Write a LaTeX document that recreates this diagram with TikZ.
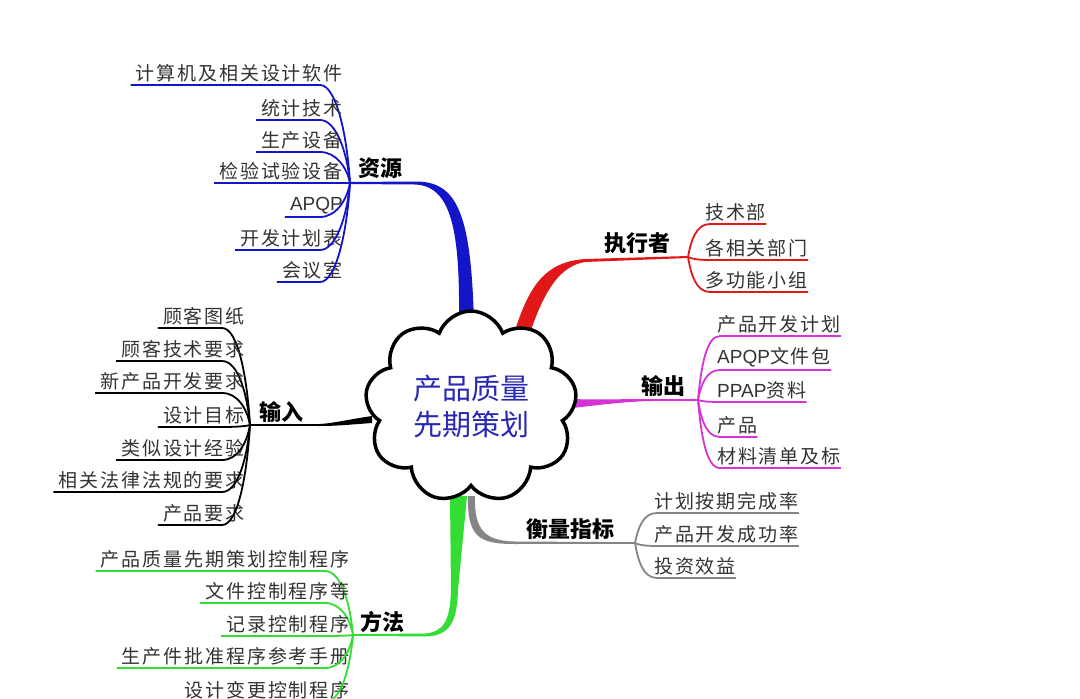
\documentclass[tikz,border=0pt]{standalone}
\usepackage{xcolor}
\usepackage{fontspec}
\setmainfont{Noto Sans CJK SC}
\newfontfamily\itemfont{Noto Sans CJK SC}[LetterSpace=10]
\newfontfamily\latfont{Liberation Sans}
\usetikzlibrary{shapes.symbols,calc,backgrounds}

\definecolor{zyblue}{HTML}{1414C8}
\definecolor{zxred}{HTML}{E01818}
\definecolor{scpink}{HTML}{D633D6}
\definecolor{hlgray}{HTML}{858585}
\definecolor{ffgreen}{HTML}{33DD33}
\definecolor{itemtext}{HTML}{333333}
\definecolor{cloudtext}{HTML}{2828B4}

\tikzset{
  item/.style={inner sep=0pt, text=itemtext, font=\itemfont\fontsize{19}{22}\selectfont},
  branch/.style={inner sep=0pt, font=\fontsize{22}{26}\selectfont\bfseries},
  twig/.style={line width=1.8pt}
}

\begin{document}
\begin{tikzpicture}[x=1pt,y=-1pt]
    \useasboundingbox (0,0) rectangle (1080,699);

    % the cloud in the middle
    \node[cloud, cloud puffs=9, cloud puff arc=140, cloud ignores aspect, draw, line width=3.5pt,
          fill=white, minimum width=212pt, minimum height=192pt, text=cloudtext, align=center,
          font=\fontsize{29}{36}\selectfont] (cloud) at (471,407) {产品质量\\先期策划};

    % hubs and roots of the six branches
    \coordinate (zyHub) at (350,183);  \coordinate (zyRoot) at (466,322);
    \coordinate (zxHub) at (688,257);  \coordinate (zxRoot) at (523,330);
    \coordinate (scHub) at (698,400);  \coordinate (scRoot) at (572,403);
    \coordinate (hlHub) at (635,543);  \coordinate (hlRoot) at (471,496);
    \coordinate (srHub) at (250,425);  \coordinate (srRoot) at (372,420);
    \coordinate (ffHub) at (353,635);  \coordinate (ffRoot) at (458,496);

    \begin{scope}[on background layer]
        \fill[zyblue] ($(zyHub)+(0,-1)$) -- (415,181.5) .. controls (458,181) and (471,215) .. ($(zyRoot)+(8,0)$)
            -- ($(zyRoot)+(-7,0)$) .. controls (460,232) and (452,186) .. (415,184.5) -- ($(zyHub)+(0,1)$) -- cycle;
        \fill[zxred] ($(zxRoot)+(-8,0)$) .. controls (530,285) and (545,262) .. (585,259) -- ($(zxHub)+(0,-1)$)
            -- ($(zxHub)+(0,1)$) -- (585,262) .. controls (560,266) and (545,290) .. ($(zxRoot)+(8,0)$) -- cycle;
        \fill[scpink] ($(scRoot)+(0,-4)$) .. controls (600,400) and (620,399) .. (650,399) -- ($(scHub)+(0,-0.8)$)
            -- ($(scHub)+(0,0.8)$) -- (650,401) .. controls (620,402) and (600,405) .. ($(scRoot)+(0,5)$) -- cycle;
        \fill[hlgray] ($(hlRoot)+(-3,0)$) .. controls (467,538) and (480,544) .. (515,544) -- ($(hlHub)+(0,0.8)$)
            -- ($(hlHub)+(0,-0.8)$) -- (515,541.5) .. controls (485,541) and (474,530) .. ($(hlRoot)+(4,0)$) -- cycle;
        \fill[black] ($(srRoot)+(0,-4)$) .. controls (345,420) and (335,423) .. (320,424) -- ($(srHub)+(0,-0.8)$)
            -- ($(srHub)+(0,0.8)$) -- (320,426) .. controls (335,426) and (345,425) .. ($(srRoot)+(0,3)$) -- cycle;
        \fill[ffgreen] ($(ffRoot)+(-8,0)$) -- (451,590) .. controls (450,622) and (443,632) .. (425,633.5)
            -- ($(ffHub)+(0,-0.8)$) -- ($(ffHub)+(0,0.8)$) -- (425,636.5) .. controls (450,636) and (457,622) .. (458,590)
            -- ($(ffRoot)+(9,0)$) -- cycle;
    \end{scope}

    % branch labels
    \node[branch] (zy) at (380,168) {资源};
    \node[branch] (zx) at (637,243) {执行者};
    \node[branch] (sc) at (663,386) {输出};
    \node[branch] (hl) at (570,529) {衡量指标};
    \node[branch] (sr) at (281,412) {输入};
    \node[branch] (ff) at (382,622) {方法};

    % 资源
    \foreach \t/\yu/\i in {计算机及相关设计软件/85/1, 统计技术/120/2, 生产设备/152/3, 检验试验设备/183/4,
                           {\latfont APQP}/217/5, 开发计划表/250/6, 会议室/282/7}{
        \node[item, anchor=south east] (zy\i) at (343,\yu-3) {\t};
        \draw[twig, zyblue] (zyHub) .. controls (347,{(\yu+183)/2}) and (336,\yu) .. (320,\yu) -- ($(zy\i.south west)+(-5,3)$);
    }
    % 执行者
    \foreach \t/\yu/\i in {技术部/224/1, 各相关部门/260/2, 多功能小组/292/3}{
        \node[item, anchor=south west] (zx\i) at (705,\yu-3) {\t};
        \draw[twig, zxred] (zxHub) .. controls (691,{(\yu+257)/2}) and (696,\yu) .. (710,\yu) -- ($(zx\i.south east)+(0,3)$);
    }
    % 输出
    \foreach \t/\yu/\i in {产品开发计划/336/1, {\latfont APQP}文件包/370/2, {\latfont PPAP}资料/402/3, 产品/437/4, 材料清单及标/468/5}{
        \node[item, anchor=south west] (sc\i) at (717,\yu-3) {\t};
        \draw[twig, scpink] (scHub) .. controls (701,{(\yu+400)/2}) and (706,\yu) .. (720,\yu) -- ($(sc\i.south east)+(0,3)$);
    }
    % 衡量指标
    \foreach \t/\yu/\i in {计划按期完成率/513/1, 产品开发成功率/546/2, 投资效益/578/3}{
        \node[item, anchor=south west] (hl\i) at (654,\yu-3) {\t};
        \draw[twig, hlgray] (hlHub) .. controls (638,{(\yu+543)/2}) and (643,\yu) .. (657,\yu) -- ($(hl\i.south east)+(0,3)$);
    }
    % 输入
    \foreach \t/\yu/\i in {顾客图纸/328/1, 顾客技术要求/361/2, 新产品开发要求/393/3, 设计目标/427/4,
                           类似设计经验/460/5, 相关法律法规的要求/492/6, 产品要求/525/7}{
        \node[item, anchor=south east] (sr\i) at (245,\yu-3) {\t};
        \draw[twig, black] (srHub) .. controls (247,{(\yu+425)/2}) and (238,\yu) .. (222,\yu) -- ($(sr\i.south west)+(-5,3)$);
    }
    % 方法
    \foreach \t/\yu/\i in {产品质量先期策划控制程序/571/1, 文件控制程序等/603/2, 记录控制程序/636/3,
                           生产件批准程序参考手册/668/4, 设计变更控制程序/702/5}{
        \node[item, anchor=south east] (ff\i) at (350,\yu-3) {\t};
        \draw[twig, ffgreen] (ffHub) .. controls (350,{(\yu+635)/2}) and (341,\yu) .. (325,\yu) -- ($(ff\i.south west)+(-5,3)$);
    }
\end{tikzpicture}
\end{document}
